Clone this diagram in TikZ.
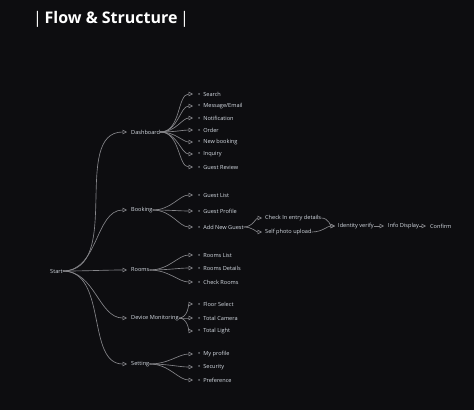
\documentclass[tikz,border=0pt]{standalone}
\usepackage{fontspec}
\setmainfont{Open Sans}
\usetikzlibrary{arrows.meta, positioning}
\definecolor{bgdark}{HTML}{0D0D10}
\definecolor{labeltxt}{HTML}{D6DCE4}
\definecolor{linkgrey}{HTML}{86868A}

\begin{document}
\begin{tikzpicture}[x=1pt, y=-1pt,
            item/.style={anchor=west, inner sep=0pt, text=labeltxt, font=\fontsize{5.6}{6}\selectfont},
            leaf/.style={item},
            title/.style={anchor=west, inner sep=0pt, text=white, font=\fontsize{16}{18}\selectfont\bfseries},
            link/.style={draw=linkgrey, line width=0.65pt, -{Triangle[open, length=4.5pt, width=4.5pt]}, shorten >=4pt},
            leaflink/.style={link, shorten >=5pt}
        ]
        \fill[bgdark] (0,0) rectangle (474,410);

        \node[title] (head) at (33,19) {\textmd{|}\,Flow \& Structure\,\textmd{|}};

        % --- root and main branches ---
        \node[item] (start) at (50,271) {Start};
        \node[item] (dash) at (131,132) {Dashboard};
        \node[item] (book) at (131,210) {Booking};
        \node[item] (rooms) at (131,270) {Rooms};
        \node[item] (device) at (131,318) {Device Monitoring};
        \node[item] (setting) at (131,364) {Setting};
        \draw[link] (start.east) to[out=0, in=180] (dash.west);
        \draw[link] (start.east) to[out=0, in=180] (book.west);
        \draw[link] (start.east) to[out=0, in=180] (rooms.west);
        \draw[link] (start.east) to[out=0, in=180] (device.west);
        \draw[link] (start.east) to[out=0, in=180] (setting.west);

        % --- Dashboard ---
        \node[leaf] (search) at (198,94) {\textbullet\hspace{3pt}Search};
        \node[leaf] (mail) at (198,106) {\textbullet\hspace{3pt}Message/Email};
        \node[leaf] (notif) at (198,118) {\textbullet\hspace{3pt}Notification};
        \node[leaf] (order) at (198,130) {\textbullet\hspace{3pt}Order};
        \node[leaf] (newbook) at (198,142) {\textbullet\hspace{3pt}New booking};
        \node[leaf] (inquiry) at (198,154) {\textbullet\hspace{3pt}Inquiry};
        \node[leaf] (review) at (198,167) {\textbullet\hspace{3pt}Guest Review};
        \draw[leaflink] (dash.east) to[out=0, in=180] (search.west);
        \draw[leaflink] (dash.east) to[out=0, in=180] (mail.west);
        \draw[leaflink] (dash.east) to[out=0, in=180] (notif.west);
        \draw[leaflink] (dash.east) to[out=0, in=180] (order.west);
        \draw[leaflink] (dash.east) to[out=0, in=180] (newbook.west);
        \draw[leaflink] (dash.east) to[out=0, in=180] (inquiry.west);
        \draw[leaflink] (dash.east) to[out=0, in=180] (review.west);

        % --- Booking ---
        \node[leaf] (glist) at (198,195) {\textbullet\hspace{3pt}Guest List};
        \node[leaf] (gprof) at (198,211) {\textbullet\hspace{3pt}Guest Profile};
        \node[leaf] (addg) at (198,227) {\textbullet\hspace{3pt}Add New Guest};
        \draw[leaflink] (book.east) to[out=0, in=180] (glist.west);
        \draw[leaflink] (book.east) to[out=0, in=180] (gprof.west);
        \draw[leaflink] (book.east) to[out=0, in=180] (addg.west);

        % --- new guest flow ---
        \node[item] (checkin) at (265,218) {Check In entry details};
        \node[item] (photo) at (265,232) {Self photo upload};
        \node[item] (ident) at (338,226) {Identity verify};
        \node[item] (info) at (388,226) {Info Display};
        \node[item] (confirm) at (430,226) {Confirm};
        \draw[link, shorten >=3pt] (addg.east) to[out=0, in=180] (checkin.west);
        \draw[link, shorten >=3pt] (addg.east) to[out=0, in=180] (photo.west);
        \draw[link, shorten >=3pt] (checkin.east) to[out=0, in=180] (ident.west);
        \draw[link, shorten >=3pt] (photo.east) to[out=0, in=180] (ident.west);
        \draw[link] (ident.east) -- (info.west);
        \draw[link] (info.east) -- (confirm.west);

        % --- Rooms ---
        \node[leaf] (rlist) at (198,255) {\textbullet\hspace{3pt}Rooms List};
        \node[leaf] (rdet) at (198,268) {\textbullet\hspace{3pt}Rooms Details};
        \node[leaf] (rcheck) at (198,282) {\textbullet\hspace{3pt}Check Rooms};
        \draw[leaflink] (rooms.east) to[out=0, in=180] (rlist.west);
        \draw[leaflink] (rooms.east) to[out=0, in=180] (rdet.west);
        \draw[leaflink] (rooms.east) to[out=0, in=180] (rcheck.west);

        % --- Device Monitoring ---
        \node[leaf] (floor) at (198,304) {\textbullet\hspace{3pt}Floor Select};
        \node[leaf] (camera) at (198,318) {\textbullet\hspace{3pt}Total Camera};
        \node[leaf] (light) at (198,331) {\textbullet\hspace{3pt}Total Light};
        \draw[leaflink] (device.east) to[out=0, in=180] (floor.west);
        \draw[leaflink] (device.east) to[out=0, in=180] (camera.west);
        \draw[leaflink] (device.east) to[out=0, in=180] (light.west);

        % --- Setting ---
        \node[leaf] (profile) at (198,354) {\textbullet\hspace{3pt}My profile};
        \node[leaf] (security) at (198,367) {\textbullet\hspace{3pt}Security};
        \node[leaf] (pref) at (198,380) {\textbullet\hspace{3pt}Preference};
        \draw[leaflink] (setting.east) to[out=0, in=180] (profile.west);
        \draw[leaflink] (setting.east) to[out=0, in=180] (security.west);
        \draw[leaflink] (setting.east) to[out=0, in=180] (pref.west);

        \end{tikzpicture}
\end{document}
